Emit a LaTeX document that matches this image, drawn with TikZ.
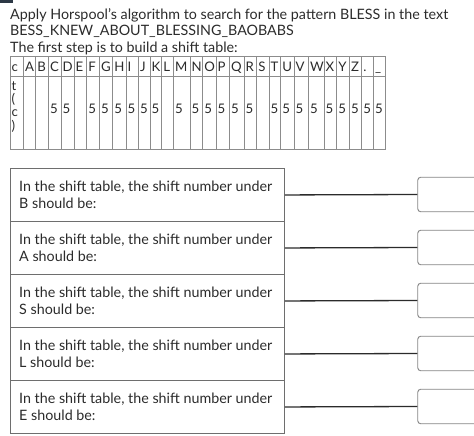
\documentclass[tikz,border=0pt]{standalone}
\usepackage{fontspec}
\setmainfont{Lato}
\definecolor{ink}{HTML}{2B2B2B}
\definecolor{rule}{HTML}{8C8C8C}
\definecolor{frame}{HTML}{6E6E6E}
\definecolor{bar}{HTML}{2C3845}
\begin{document}
\begin{tikzpicture}[x=1pt, y=-1pt,
    every node/.style={text=ink, inner sep=0pt},
    line/.style={anchor=base west, font=\fontsize{14.3}{16}\selectfont},
    head/.style={anchor=base west, font=\fontsize{13.2}{14}\selectfont},
    grid/.style={draw=rule, line width=0.8pt},
    question/.style={draw=frame, line width=0.9pt, anchor=north west, minimum width=274pt, minimum height=53pt},
    qline/.style={anchor=base west, font=\fontsize{14.3}{16}\selectfont},
    answer/.style={draw=frame!85, line width=0.9pt, rounded corners=3pt, anchor=west, minimum width=100pt, minimum height=34.5pt},
    link/.style={draw=ink, line width=1.3pt}]
  \useasboundingbox (0,0) rectangle (474,436);
  \fill[bar] (0,0) rectangle (13,3);

  % heading
  \node[line] (l1) at (10,19.3) {Apply Horspool’s algorithm to search for the pattern BLESS in the text};
  \node[line] (l2) at (10,35.8) {BESS\_KNEW\_ABOUT\_BLESSING\_BAOBABS};
  \node[line] (l3) at (10,52.5) {The first step is to build a shift table:};

  % shift table
  \foreach \xl/\xr/\ch/\v [count=\i] in {10/23.3/c/{}, 23.3/35.7/A/{}, 35.7/48.3/B/{},
      48.3/61/C/5, 61/74/D/5, 74/86.7/E/{}, 86.7/99.3/F/5, 99.3/112.7/G/5,
      112.7/126/H/5, 126/138.3/I/5, 138.3/150/J/5, 150/161.7/K/5, 161.7/173.3/L/{},
      173.3/190/M/5, 190/202.7/N/5, 202.7/216/O/5, 216/229.3/P/5, 229.3/244/Q/5,
      244/256.7/R/5, 256.7/269/S/{}, 269/280.7/T/5, 280.7/294/U/5, 294/308.3/V/5,
      308.3/324/W/5, 324/336.7/X/5, 336.7/349.3/Y/5, 349.3/361.7/Z/5,
      361.7/373.3/./5, 373.3/385/\_/5} {
    \draw[grid] (\xl,56) rectangle (\xr,149);
    \draw[grid] (\xl,76) -- (\xr,76);
    \node[head] (h\i) at (\xl+1.5,71.6) {\ch};
    \node[head] (v\i) at (\xl+1.5,113.6) {\v};
  }
  \foreach \c [count=\k] in {t,{(},c,{)}}
    \node[head] (tc\k) at (11.5,90+13.5*\k-13.5) {\c};

  % questions and answer slots
  \foreach \k/\y [count=\i] in {B/168, A/221, S/274, L/327, E/380} {
    \node[question] (q\i) at (10,\y) {};
    \node[qline] (qa\i) at (19,\y+23) {In the shift table, the shift number under};
    \node[qline] (qb\i) at (19,\y+40.5) {\k{} should be:};
    \node[answer] (a\i) at (417.3,\y+26.5) {};
    \draw[link] (q\i.east) -- (a\i.west);
  }
\end{tikzpicture}
\end{document}
